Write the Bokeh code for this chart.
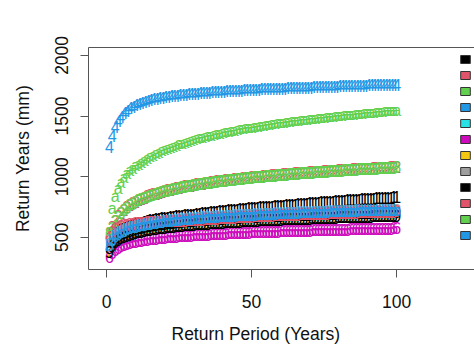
from bokeh.plotting import figure
from bokeh.models import Range1d, FixedTicker, LinearAxis, Legend, LegendItem, Title, ColumnDataSource
from bokeh.core.properties import value
from bokeh.embed import file_html
from bokeh.resources import INLINE

# Return periods (years)
periods = list(range(1, 101))

# Return levels (mm), one list per column of the matplot
s1 = [480, 515, 540, 557, 570, 580, 589, 597, 604, 610,
      617, 623, 629, 635, 640, 644, 649, 653, 657, 660,
      664, 667, 670, 674, 676, 679, 682, 684, 687, 689,
      692, 696, 699, 702, 705, 708, 710, 713, 716, 718,
      721, 723, 726, 728, 730, 732, 735, 737, 739, 741,
      743, 745, 747, 749, 750, 752, 754, 756, 758, 759,
      761, 764, 766, 768, 770, 772, 775, 777, 779, 781,
      783, 785, 787, 789, 791, 792, 794, 796, 798, 800,
      801, 803, 805, 807, 808, 810, 811, 813, 815, 816,
      818, 819, 821, 822, 824, 825, 827, 828, 830, 831]
s2 = [533, 583, 635, 675, 705, 729, 749, 767, 782, 795,
      808, 818, 828, 838, 847, 855, 862, 869, 876, 882,
      888, 894, 900, 905, 910, 915, 920, 924, 928, 933,
      937, 940, 944, 948, 951, 955, 958, 962, 965, 968,
      971, 974, 977, 980, 982, 985, 988, 990, 993, 995,
      998, 1000, 1002, 1005, 1007, 1009, 1011, 1013, 1015, 1017,
      1020, 1021, 1023, 1025, 1027, 1029, 1031, 1033, 1034, 1036,
      1038, 1040, 1041, 1043, 1045, 1046, 1048, 1049, 1051, 1053,
      1054, 1056, 1057, 1058, 1060, 1061, 1063, 1064, 1066, 1067,
      1068, 1069, 1071, 1072, 1073, 1075, 1076, 1077, 1078, 1080]
s3 = [530, 580, 632, 672, 702, 726, 746, 764, 779, 792,
      805, 815, 825, 835, 844, 852, 859, 866, 873, 879,
      885, 891, 897, 902, 907, 912, 917, 921, 925, 930,
      934, 937, 941, 945, 948, 952, 955, 959, 962, 965,
      968, 971, 974, 977, 979, 982, 985, 987, 990, 992,
      995, 997, 999, 1002, 1004, 1006, 1008, 1010, 1012, 1014,
      1017, 1018, 1020, 1022, 1024, 1026, 1028, 1030, 1031, 1033,
      1035, 1037, 1038, 1040, 1042, 1043, 1045, 1046, 1048, 1050,
      1051, 1053, 1054, 1055, 1057, 1058, 1060, 1061, 1063, 1064,
      1065, 1066, 1068, 1069, 1070, 1072, 1073, 1074, 1075, 1077]
s4 = [1243, 1335, 1410, 1460, 1495, 1523, 1545, 1563, 1578, 1590,
      1600, 1610, 1618, 1625, 1632, 1637, 1642, 1647, 1651, 1655,
      1659, 1662, 1666, 1669, 1672, 1675, 1677, 1679, 1682, 1684,
      1686, 1688, 1690, 1692, 1694, 1695, 1697, 1699, 1700, 1702,
      1703, 1705, 1706, 1708, 1709, 1710, 1711, 1713, 1714, 1715,
      1716, 1717, 1719, 1720, 1721, 1722, 1723, 1724, 1725, 1726,
      1727, 1728, 1729, 1730, 1731, 1732, 1732, 1733, 1734, 1735,
      1736, 1737, 1738, 1739, 1740, 1740, 1741, 1742, 1743, 1744,
      1745, 1746, 1746, 1747, 1748, 1749, 1750, 1750, 1751, 1752,
      1753, 1754, 1754, 1755, 1756, 1757, 1758, 1758, 1759, 1760]
s5 = [410, 458, 487, 506, 520, 532, 542, 551, 558, 565,
      571, 577, 582, 586, 590, 595, 598, 602, 605, 608,
      611, 614, 617, 619, 622, 624, 627, 629, 631, 633,
      635, 637, 639, 641, 642, 644, 646, 647, 649, 651,
      652, 654, 655, 656, 658, 659, 660, 662, 663, 664,
      665, 667, 668, 669, 670, 671, 672, 673, 674, 675,
      676, 677, 678, 679, 680, 681, 682, 683, 684, 684,
      685, 686, 687, 688, 689, 689, 690, 691, 692, 693,
      693, 694, 695, 696, 696, 697, 698, 698, 699, 700,
      700, 701, 702, 702, 703, 704, 704, 705, 705, 706]
s6 = [335, 375, 400, 417, 429, 438, 446, 453, 459, 464,
      469, 473, 477, 480, 484, 487, 490, 493, 495, 498,
      500, 502, 504, 506, 508, 510, 512, 514, 515, 517,
      519, 520, 522, 523, 524, 526, 527, 528, 530, 531,
      532, 533, 534, 535, 536, 537, 538, 539, 540, 541,
      542, 543, 544, 545, 546, 547, 548, 548, 549, 550,
      551, 552, 552, 553, 554, 555, 555, 556, 557, 557,
      558, 559, 559, 560, 561, 561, 562, 562, 563, 564,
      564, 565, 565, 566, 567, 567, 568, 568, 569, 569,
      570, 570, 571, 571, 572, 572, 573, 573, 574, 574]
s7 = [382, 430, 459, 478, 492, 504, 514, 523, 530, 537,
      543, 549, 554, 558, 562, 567, 570, 574, 577, 580,
      583, 586, 589, 591, 594, 596, 599, 601, 603, 605,
      607, 609, 611, 613, 614, 616, 618, 619, 621, 623,
      624, 626, 627, 628, 630, 631, 632, 634, 635, 636,
      637, 639, 640, 641, 642, 643, 644, 645, 646, 647,
      648, 649, 650, 651, 652, 653, 654, 655, 656, 656,
      657, 658, 659, 660, 661, 661, 662, 663, 664, 665,
      665, 666, 667, 668, 668, 669, 670, 670, 671, 672,
      672, 673, 674, 674, 675, 676, 676, 677, 677, 678]
s8 = [430, 478, 507, 526, 540, 552, 562, 571, 578, 585,
      591, 597, 602, 606, 610, 615, 618, 622, 625, 628,
      631, 634, 637, 639, 642, 644, 647, 649, 651, 653,
      655, 657, 659, 661, 662, 664, 666, 667, 669, 671,
      672, 674, 675, 676, 678, 679, 680, 682, 683, 684,
      685, 687, 688, 689, 690, 691, 692, 693, 694, 695,
      696, 697, 698, 699, 700, 701, 702, 703, 704, 704,
      705, 706, 707, 708, 709, 709, 710, 711, 712, 713,
      713, 714, 715, 716, 716, 717, 718, 718, 719, 720,
      720, 721, 722, 722, 723, 724, 724, 725, 725, 726]
s9 = [382, 430, 459, 478, 492, 504, 514, 523, 530, 537,
      543, 549, 554, 558, 562, 567, 570, 574, 577, 580,
      583, 586, 589, 591, 594, 596, 599, 601, 603, 605,
      607, 609, 611, 613, 614, 616, 618, 619, 621, 623,
      624, 626, 627, 628, 630, 631, 632, 634, 635, 636,
      637, 639, 640, 641, 642, 643, 644, 645, 646, 647,
      648, 649, 650, 651, 652, 653, 654, 655, 656, 656,
      657, 658, 659, 660, 661, 661, 662, 663, 664, 665,
      665, 666, 667, 668, 668, 669, 670, 670, 671, 672,
      672, 673, 674, 674, 675, 676, 676, 677, 677, 678]
s10 = [495, 545, 568, 582, 592, 599, 605, 609, 613, 616,
       618, 620, 622, 624, 625, 627, 628, 630, 631, 632,
       633, 634, 635, 636, 637, 638, 639, 640, 641, 642,
       643, 645, 647, 649, 650, 652, 654, 655, 657, 659,
       660, 662, 663, 664, 666, 667, 668, 670, 671, 672,
       673, 675, 676, 677, 678, 679, 680, 681, 682, 683,
       684, 685, 686, 687, 688, 689, 690, 691, 692, 692,
       693, 694, 695, 696, 697, 697, 698, 699, 700, 701,
       701, 702, 703, 704, 704, 705, 706, 706, 707, 708,
       708, 709, 710, 710, 711, 712, 712, 713, 713, 714]
s11 = [560, 740, 840, 905, 955, 995, 1025, 1050, 1072, 1090,
       1100, 1118, 1135, 1150, 1165, 1178, 1191, 1202, 1214, 1224,
       1234, 1244, 1253, 1261, 1270, 1278, 1285, 1293, 1300, 1307,
       1314, 1320, 1326, 1332, 1338, 1344, 1349, 1355, 1360, 1365,
       1370, 1375, 1380, 1385, 1389, 1394, 1398, 1402, 1406, 1410,
       1414, 1418, 1422, 1426, 1430, 1433, 1437, 1440, 1444, 1447,
       1451, 1454, 1457, 1460, 1463, 1466, 1469, 1472, 1475, 1478,
       1481, 1484, 1487, 1489, 1492, 1495, 1497, 1500, 1503, 1505,
       1508, 1510, 1513, 1515, 1517, 1520, 1522, 1524, 1527, 1529,
       1531, 1533, 1535, 1538, 1540, 1542, 1544, 1546, 1548, 1550]
s12 = [430, 478, 507, 526, 540, 552, 562, 571, 578, 585,
       591, 597, 602, 606, 610, 615, 618, 622, 625, 628,
       631, 634, 637, 639, 642, 644, 647, 649, 651, 653,
       655, 657, 659, 661, 662, 664, 666, 667, 669, 671,
       672, 674, 675, 676, 678, 679, 680, 682, 683, 684,
       685, 687, 688, 689, 690, 691, 692, 693, 694, 695,
       696, 697, 698, 699, 700, 701, 702, 703, 704, 704,
       705, 706, 707, 708, 709, 709, 710, 711, 712, 713,
       713, 714, 715, 716, 716, 717, 718, 718, 719, 720,
       720, 721, 722, 722, 723, 724, 724, 725, 725, 726]

series = [s1, s2, s3, s4, s5, s6, s7, s8, s9, s10, s11, s12]
symbols = ["1", "2", "3", "4", "5", "6", "7", "8", "9", "0", "a", "b"]
colors = ["#000000", "#DF536B", "#61D04F", "#2297E6", "#28E2E5", "#CD0BBC",
          "#F5C710", "#9E9E9E", "#000000", "#DF536B", "#61D04F", "#2297E6"]

x_ticks = [0, 50, 100]
y_ticks = [500, 1000, 1500, 2000]

FONT = "Liberation Sans"
AX = "#555555"
TXT = "#111111"

p = figure(width=474, height=355, x_range=Range1d(-6.2, 126.8), y_range=Range1d(236, 2065),
           output_backend="svg", toolbar_location=None,
           min_border_left=88, min_border_right=0, min_border_top=47, min_border_bottom=84)
p.outline_line_color = None
p.grid.visible = False
p.background_fill_color = "white"
p.border_fill_color = "white"

for ys, sym, col in zip(series, symbols, colors):
    src = ColumnDataSource(dict(x=periods, y=ys, t=[sym] * len(ys)))
    p.text(x="x", y="y", text="t", source=src, text_color=col,
           text_font=value(FONT), text_font_size=value("16px"),
           text_align="center", text_baseline="middle")

# axes
p.xaxis.ticker = FixedTicker(ticks=x_ticks)
p.yaxis.ticker = FixedTicker(ticks=y_ticks)
for ax in (p.xaxis[0], p.yaxis[0]):
    ax.axis_line_color = AX
    ax.major_tick_line_color = AX
    ax.major_tick_out = 8
    ax.major_tick_in = 0
    ax.minor_tick_line_color = None
    ax.major_label_text_font = FONT
    ax.major_label_text_font_size = "17.5px"
    ax.major_label_text_color = TXT
p.xaxis.major_label_standoff = 17
p.yaxis.major_label_standoff = 12
p.yaxis.major_label_orientation = "vertical"
p.yaxis.axis_label = "Return Years (mm)"
p.yaxis.axis_label_text_font = FONT
p.yaxis.axis_label_text_font_size = "17.5px"
p.yaxis.axis_label_text_font_style = "normal"
p.yaxis.axis_label_text_color = TXT
p.yaxis.axis_label_standoff = 20

top = LinearAxis(ticker=FixedTicker(ticks=[]), axis_line_color=AX,
                 major_tick_line_color=None, minor_tick_line_color=None,
                 major_label_text_color=None)
p.add_layout(top, "above")

xtitle = Title(text="Return Period (Years)", align="left", offset=83, standoff=23,
               text_font=FONT, text_font_size="17.5px", text_font_style="normal",
               text_color=TXT)
p.add_layout(xtitle, "below")

# legend (colour boxes only; their labels fall outside the picture)
items = []
for ys, col in zip(series, colors):
    src = ColumnDataSource(dict(x=periods[:1], y=ys[:1]))
    r = p.rect(x="x", y="y", width=0, height=0, source=src,
               fill_color=col, line_color="#333333")
    items.append(LegendItem(label=" ", renderers=[r]))
leg = Legend(items=items, location=(371, 29), orientation="vertical",
             padding=0, margin=0, spacing=6, glyph_width=12, glyph_height=10,
             label_height=0, label_standoff=0, label_text_font=FONT,
             label_text_font_size="14px", border_line_color=None,
             background_fill_alpha=0)
p.add_layout(leg)

open("out.html", "w").write(file_html(p, INLINE))
